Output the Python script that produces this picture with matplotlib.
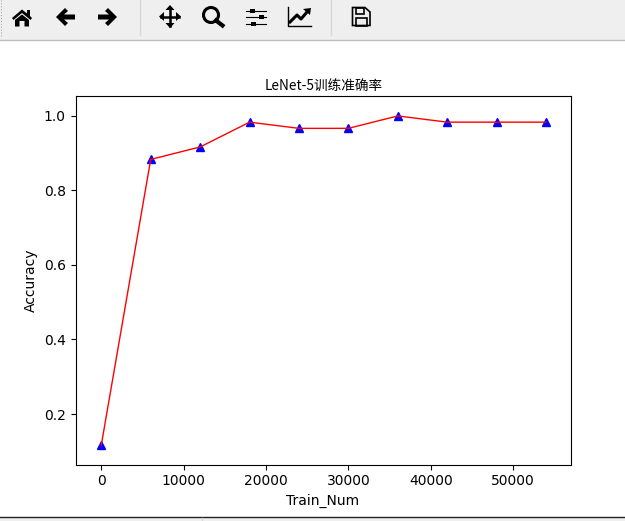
import numpy as np
import matplotlib
matplotlib.use("Agg")
import matplotlib.pyplot as plt
from matplotlib.patches import Rectangle, Polygon, Circle

train_num = [0, 6000, 12000, 18000, 24000, 30000, 36000, 42000, 48000, 54000]
accuracy = [0.1167, 0.8833, 0.9167, 0.9833, 0.9667, 0.9667, 1.0, 0.9833, 0.9833, 0.9833]
x_ticks = [0, 10000, 20000, 30000, 40000, 50000]
y_ticks = [0.2, 0.4, 0.6, 0.8, 1.0]

W, H = 625, 521
fig = plt.figure(figsize=(W / 100, H / 100), dpi=100)

# window chrome drawn in pixel coordinates
chrome = fig.add_axes([0, 0, 1, 1], zorder=0)
chrome.set_xlim(0, W)
chrome.set_ylim(H, 0)
chrome.axis("off")
chrome.add_patch(Rectangle((0, 0), W, 39.5, fc="#efefef", ec="none"))
chrome.plot([0, W], [39.5, 39.5], color="#bdbdbd", lw=1)
chrome.plot([0.5, 0.5], [0, 36], color="#999999", lw=0.7, ls=(0, (1, 2)))
chrome.plot([139.5, 139.5], [0, 35], color="#d8d8d8", lw=1)
chrome.plot([330.5, 330.5], [0, 35], color="#d8d8d8", lw=1)
chrome.add_patch(Rectangle((0, 517), W, 4, fc="#efefef", ec="none"))
chrome.plot([0, W], [516.5, 516.5], color="#222222", lw=1)
chrome.plot([201.5, 201.5], [518, 521], color="#d8d8d8", lw=1)

# home
chrome.add_patch(Polygon([(12, 18), (22, 9.5), (27, 13.5), (27, 10), (30, 10), (30, 16), (32, 18),
                          (30.5, 20), (22, 13), (13.5, 20)], fc="black", ec="none"))
chrome.add_patch(Polygon([(15, 20), (22, 14.5), (29, 20), (29, 26.5), (24.5, 26.5), (24.5, 21),
                          (19.5, 21), (19.5, 26.5), (15, 26.5)], fc="black", ec="none"))
# back / forward
arrow = np.array([(-9.5, 0), (-0.5, -9), (2.5, -6), (-1.5, -2.5), (9.5, -2.5),
                  (9.5, 2.5), (-1.5, 2.5), (2.5, 6), (-0.5, 9)])
chrome.add_patch(Polygon(arrow + [65.5, 17], fc="black", ec="none"))
chrome.add_patch(Polygon(arrow * [-1, 1] + [107.5, 17], fc="black", ec="none"))
# move
chrome.plot([161, 179], [17, 17], color="black", lw=1.8)
chrome.plot([170, 170], [8, 26], color="black", lw=1.8)
for p in [[(170, 5), (165.5, 10), (174.5, 10)], [(170, 28), (165.5, 23), (174.5, 23)],
          [(159, 16.5), (164, 12), (164, 21)], [(181, 16.5), (176, 12), (176, 21)]]:
    chrome.add_patch(Polygon(p, fc="black", ec="none"))
# zoom
chrome.add_patch(Circle((211, 15), 7.5, fc="none", ec="black", lw=2.2))
chrome.plot([216, 222.5], [20.5, 25.5], color="black", lw=3)
# sliders
for y, x in [(10.5, 252), (17, 261), (24, 253)]:
    chrome.plot([246, 266], [y, y], color="black", lw=0.8)
    chrome.add_patch(Rectangle((x - 2.5, y - 2), 5, 4, fc="black", ec="none"))
# axes icon
chrome.plot([287.5, 287.5, 311], [7, 25.5, 25.5], color="black", lw=1)
chrome.plot([290, 297, 301, 307], [22, 15, 19, 12], color="black", lw=2.2)
chrome.add_patch(Polygon([(303, 9), (311, 8), (310, 15)], fc="black", ec="none"))
# save
chrome.add_patch(Polygon([(352.5, 7.5), (365, 7.5), (370, 12), (370, 25.5), (352.5, 25.5)],
                         fc="none", ec="black", lw=1.2))
chrome.add_patch(Rectangle((356, 7.5), 8, 6.5, fc="none", ec="black", lw=1.2))
chrome.add_patch(Rectangle((356, 18), 11, 7.5, fc="none", ec="black", lw=1.2))

ax = fig.add_axes([75.5 / W, 1 - 464.5 / H, 495.5 / W, 368.5 / H], zorder=1)
ax.plot(train_num, accuracy, ls="none", marker="^", mfc="blue", mec="blue", ms=6.3)
ax.plot(train_num, accuracy, color="red", lw=1)
ax.set_xlim(-3130, 57030)
ax.set_ylim(0.0645, 1.0535)
ax.set_xticks(x_ticks)
ax.set_yticks(y_ticks)
ax.set_xlabel("Train_Num", x=0.498)
ax.set_ylabel("Accuracy")
ax.set_title("LeNet-5训练准确率", family=["Noto Sans CJK SC", "DejaVu Sans"], fontsize=9.8, pad=3.8)

fig.savefig("out.png", dpi=100)
